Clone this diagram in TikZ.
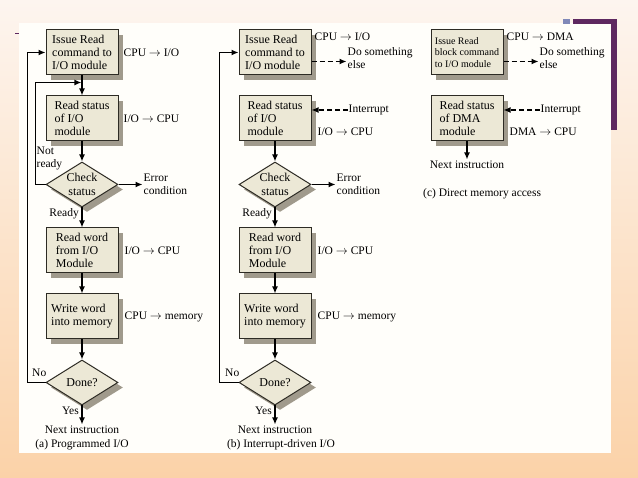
\documentclass[tikz,border=0pt]{standalone}
\usepackage{fontspec}
\setmainfont{Liberation Serif}
\usetikzlibrary{arrows.meta,positioning,shapes.geometric,shadows,calc}
\definecolor{boxfill}{RGB}{236,232,214}
\definecolor{boxline}{RGB}{45,43,36}
\definecolor{shadowgray}{RGB}{160,154,140}
\definecolor{slidetop}{RGB}{253,245,239}
\definecolor{slidebottom}{RGB}{251,210,168}
\definecolor{paper}{RGB}{255,254,250}
\definecolor{bracket}{RGB}{94,40,96}
\definecolor{bluesquare}{RGB}{128,136,184}
\tikzstyle{box} = [rectangle, draw=boxline, line width=1pt, fill=boxfill, minimum width=72pt, minimum height=45pt, align=left, font=\fontsize{12}{13}\selectfont, drop shadow={shadow xshift=5pt, shadow yshift=-5pt, fill=shadowgray, opacity=1}]
\tikzstyle{decision} = [diamond, draw=boxline, line width=1pt, fill=boxfill, minimum width=72pt, minimum height=45pt, inner sep=-4pt, align=center, font=\fontsize{12}{14}\selectfont, drop shadow={shadow xshift=5pt, shadow yshift=-5pt, fill=shadowgray, opacity=1}]
\tikzstyle{note} = [inner sep=1pt, align=left, font=\fontsize{11.5}{13}\selectfont]
\tikzstyle{flow} = [line width=1.3pt, -{Latex[length=7pt,width=6pt]}]
\tikzstyle{flowdash} = [flow, dash pattern=on 5pt off 3pt]

\begin{document}
\begin{tikzpicture}[x=1pt, y=1pt, node distance=20pt]

  % slide background
  \shade[top color=slidetop, bottom color=slidebottom] (0,0) rectangle (638,478);
  \fill[paper] (19,25) rectangle (611,455);
  \fill[bracket] (573,454) rectangle (617,459);
  \fill[bracket] (611,348) rectangle (617,459);
  \fill[bluesquare] (563,454) rectangle (570,459);
  \fill[bracket] (15,443.5) rectangle (19,444.5);

  % (a) programmed I/O
  \node (issueA) [box] at (82,425.5) {Issue Read\\command to\\I/O module};
  \node (statusA) [box, below=of issueA] {Read status\\of I/O\\module};
  \node (checkA) [decision, below=of statusA] {Check\\status};
  \node (wordA) [box, below=of checkA] {Read word\\from I/O\\Module};
  \node (writeA) [box, below=of wordA] {Write word\\into memory};
  \node (doneA) [decision, below=of writeA] {Done?};
  \node (nextA) [note, below=19pt of doneA] {Next instruction};
  \node (capA) [note] at ($(nextA)+(0,-15)$) {(a) Programmed I/O};

  \node (cpuioA) [note, right=4pt of issueA] {CPU $\rightarrow$ I/O};
  \node (iocpuA) [note, right=4pt of statusA] {I/O $\rightarrow$ CPU};
  \node (errA) [note, right=24pt of checkA] {Error\\condition};
  \node (wordioA) [note, right=5pt of wordA] {I/O $\rightarrow$ CPU};
  \node (memA) [note, right=5pt of writeA] {CPU $\rightarrow$ memory};
  \node (notreadyA) [note, anchor=west] at ($(checkA.west)+(-10,26)$) {Not\\ready};
  \node (readyA) [note, anchor=east] at ($(checkA.south)+(-2,-6)$) {Ready};
  \node (noA) [note, anchor=east] at ($(doneA.west)+(2,10)$) {No};
  \node (yesA) [note, anchor=east] at ($(doneA.south)+(-2,-5)$) {Yes};

  \coordinate (joinA) at ($(issueA.south)!0.35!(statusA.north)$);
  \draw[flow] (issueA) -- (statusA);
  \draw[flow] (statusA) -- (checkA);
  \draw[flow] (checkA) -- (errA);
  \draw[flow] (checkA) -- (wordA);
  \draw[flow] (wordA) -- (writeA);
  \draw[flow] (writeA) -- (doneA);
  \draw[flow] (doneA) -- (nextA);
  \draw[flow, shorten >=0.6pt] (checkA.west) -- ++(-10,0) |- (joinA);
  \draw[flow] (doneA.west) -- ++(-18,0) |- (issueA.west);

  % (b) interrupt-driven I/O
  \node (issueB) [box] at (275,425.5) {Issue Read\\command to\\I/O module};
  \node (statusB) [box, below=of issueB] {Read status\\of I/O\\module};
  \node (checkB) [decision, below=of statusB] {Check\\status};
  \node (wordB) [box, below=of checkB] {Read word\\from I/O\\Module};
  \node (writeB) [box, below=of wordB] {Write word\\into memory};
  \node (doneB) [decision, below=of writeB] {Done?};
  \node (nextB) [note, below=19pt of doneB] {Next instruction};
  \node (capB) [note] at ($(nextB)+(6,-15)$) {(b) Interrupt-driven I/O};

  \node (cpuioB) [note, anchor=west] at ($(issueB.north east)+(2,-7)$) {CPU $\rightarrow$ I/O};
  \node (elseB) [note, anchor=west] at ($(issueB.east)+(35,-6)$) {Do something\\else};
  \node (intB) [note, anchor=west] at ($(statusB.east)+(36,8.5)$) {Interrupt};
  \node (iocpuB) [note, anchor=west] at ($(statusB.east)+(5,-13.5)$) {I/O $\rightarrow$ CPU};
  \node (errB) [note, right=24pt of checkB] {Error\\condition};
  \node (wordioB) [note, right=5pt of wordB] {I/O $\rightarrow$ CPU};
  \node (memB) [note, right=5pt of writeB] {CPU $\rightarrow$ memory};
  \node (readyB) [note, anchor=east] at ($(checkB.south)+(-2,-6)$) {Ready};
  \node (noB) [note, anchor=east] at ($(doneB.west)+(2,10)$) {No};
  \node (yesB) [note, anchor=east] at ($(doneB.south)+(-2,-5)$) {Yes};

  \draw[flowdash] ($(issueB.east)+(0,-9)$) -- ($(elseB.west)+(0,-3)$);
  \draw[flowdash] (intB.west) -- ($(statusB.east)+(0,8.5)$);
  \draw[flow] (statusB) -- (checkB);
  \draw[flow] (checkB) -- (errB);
  \draw[flow] (checkB) -- (wordB);
  \draw[flow] (wordB) -- (writeB);
  \draw[flow] (writeB) -- (doneB);
  \draw[flow] (doneB) -- (nextB);
  \draw[flow] (doneB.west) -- ++(-19,0) |- (issueB.west);

  % (c) direct memory access
  \node (issueC) [box, font=\fontsize{10}{11.5}\selectfont] at (467,425.5) {Issue Read\\block command\\to I/O module};
  \node (statusC) [box, below=of issueC] {Read status\\of DMA\\module};
  \node (nextC) [note, below=18pt of statusC] {Next instruction};
  \node (capC) [note, anchor=west] at (422,284) {(c) Direct memory access};

  \node (cpudmaC) [note, anchor=west] at ($(issueC.north east)+(2,-7)$) {CPU $\rightarrow$ DMA};
  \node (elseC) [note, anchor=west] at ($(issueC.east)+(35,-6)$) {Do something\\else};
  \node (intC) [note, anchor=west] at ($(statusC.east)+(36,8.5)$) {Interrupt};
  \node (dmacpuC) [note, anchor=west] at ($(statusC.east)+(5,-13.5)$) {DMA $\rightarrow$ CPU};

  \draw[flowdash] ($(issueC.east)+(0,-9)$) -- ($(elseC.west)+(0,-3)$);
  \draw[flowdash] (intC.west) -- ($(statusC.east)+(0,8.5)$);
  \draw[flow] (statusC) -- (nextC);

\end{tikzpicture}
\end{document}
